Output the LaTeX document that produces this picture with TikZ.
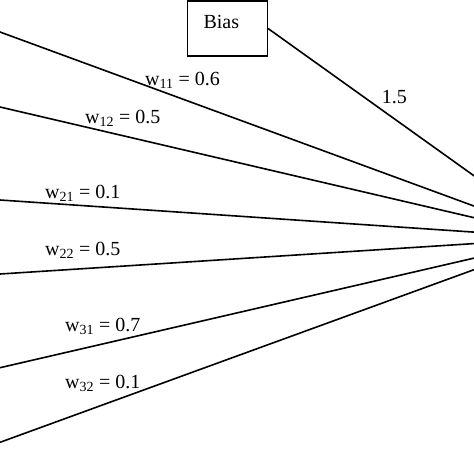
\documentclass[tikz,border=0pt]{standalone}
\usepackage{fontspec}
\setmainfont{Liberation Serif}
\begin{document}
\begin{tikzpicture}[x=1pt,y=-1pt,
  wire/.style={line width=1.6pt},
  box/.style={draw,line width=1.5pt,minimum width=80pt,minimum height=55pt,inner sep=0pt},
  lbl/.style={inner sep=0pt,anchor=base west,font=\fontsize{20}{23}\selectfont}]
\useasboundingbox (0,0) rectangle (474,474);
\clip (0,0) rectangle (474,474);
\coordinate (out) at (561,238);
\coordinate (in1) at (-3,30.9);
\coordinate (in2) at (-3,106.3);
\coordinate (in3) at (-3,199.8);
\coordinate (in4) at (-3,274.2);
\coordinate (in5) at (-3,368.4);
\coordinate (in6) at (-3,443.4);
\node[box] (bias) at (227.3,28.5) {};
\node[lbl] (biastext) at (203.3,28.3) {Bias};
\draw[wire] (bias.east) -- (out);
\draw[wire] (in1) -- (out);
\draw[wire] (in2) -- (out);
\draw[wire] (in3) -- (out);
\draw[wire] (in4) -- (out);
\draw[wire] (in5) -- (out);
\draw[wire] (in6) -- (out);
\node[lbl] (l11) at (145,85) {w\textsubscript{11} = 0.6};
\node[lbl] (l12) at (85,123.3) {w\textsubscript{12} = 0.5};
\node[lbl] (l21) at (45,198.3) {w\textsubscript{21} = 0.1};
\node[lbl] (l22) at (45,255) {w\textsubscript{22} = 0.5};
\node[lbl] (l31) at (65,331.7) {w\textsubscript{31} = 0.7};
\node[lbl] (l32) at (65,388.3) {w\textsubscript{32} = 0.1};
\node[lbl] (lb) at (381.7,103.3) {1.5};
\end{tikzpicture}
\end{document}
